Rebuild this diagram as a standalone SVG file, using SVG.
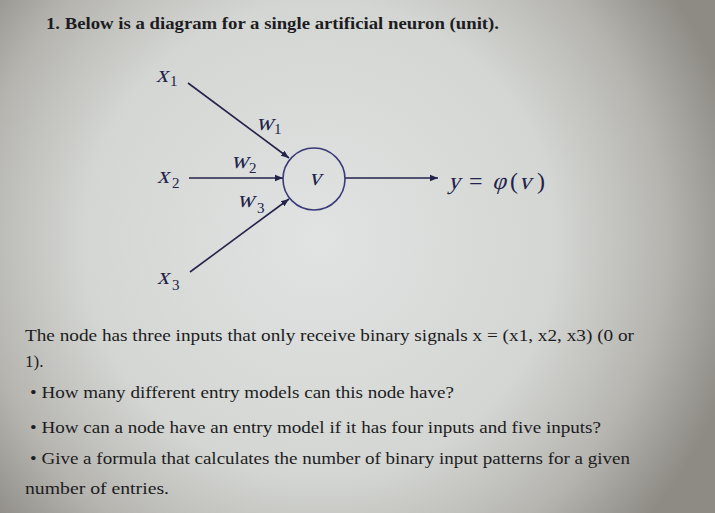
<svg xmlns="http://www.w3.org/2000/svg" width="715" height="513" viewBox="0 0 715 513">
<defs>
<radialGradient id="bg" cx="320" cy="240" r="430" gradientUnits="userSpaceOnUse">
<stop offset="0" stop-color="#e0e3e2"/>
<stop offset="0.55" stop-color="#d4d6d3"/>
<stop offset="0.8" stop-color="#b6b5b0"/>
<stop offset="1" stop-color="#8e8b85"/>
</radialGradient>
<marker id="ah" viewBox="0 0 10 10" refX="10" refY="5" markerWidth="8" markerHeight="8" markerUnits="userSpaceOnUse" orient="auto">
<path d="M0,1 L10,5 L0,9 z" fill="#23234a"/>
</marker>
</defs>
<style>
.t{font-family:"Liberation Serif","Times New Roman",serif;font-size:17px;fill:#1c1c22}
.b{font-weight:bold}
.m{font-family:"Liberation Serif","Times New Roman",serif;font-size:24px;fill:#22224a}
.s{font-family:"Liberation Serif","Times New Roman",serif;font-size:15px;fill:#22224a}
.ln{stroke:#23234a;stroke-width:1.6;fill:none}
</style>
<rect width="715" height="513" fill="url(#bg)"/>
<text class="t b" x="46" y="29" font-size="18" textLength="453" lengthAdjust="spacingAndGlyphs">1. Below is a diagram for a single artificial neuron (unit).</text>
<g id="connectors">
<line class="ln" x1="188" y1="83" x2="289" y2="158" marker-end="url(#ah)"/>
<line class="ln" x1="189" y1="178" x2="283" y2="178" marker-end="url(#ah)"/>
<line class="ln" x1="190" y1="272" x2="289" y2="199" marker-end="url(#ah)"/>
<line class="ln" x1="345" y1="178" x2="438" y2="178" marker-end="url(#ah)"/>
</g>
<g id="x1"><text class="m" transform="translate(156,82) skewX(-15)">x</text><text class="s" x="170" y="86">1</text></g>
<g id="x2"><text class="m" transform="translate(157,183) skewX(-15)">x</text><text class="s" x="172" y="188">2</text></g>
<g id="x3"><text class="m" transform="translate(157,284) skewX(-15)">x</text><text class="s" x="172" y="290">3</text></g>
<g id="w1"><text class="m" transform="translate(256,130) skewX(-15)">w</text><text class="s" x="274" y="134">1</text></g>
<g id="w2"><text class="m" transform="translate(231,168) skewX(-15)">w</text><text class="s" x="249" y="173">2</text></g>
<g id="w3"><text class="m" transform="translate(237,207) skewX(-15)">w</text><text class="s" x="257" y="213">3</text></g>
<g id="neuron">
<circle cx="314" cy="179" r="31" fill="none" stroke="#3a3a78" stroke-width="1.6"/>
<text class="m" transform="translate(315,185) skewX(-15)" text-anchor="middle" font-size="20">v</text>
</g>
<g id="output">
<text class="m" transform="translate(448,189) skewX(-15)">y</text>
<text class="m" x="469" y="189" font-size="28">=</text>
<text class="m" transform="translate(492,189) skewX(-15)">φ</text>
<text class="m" x="510" y="189" font-size="26">(</text>
<text class="m" transform="translate(519,189) skewX(-15)">v</text>
<text class="m" x="537" y="189" font-size="26">)</text>
</g>
<text class="t" x="25" y="341" textLength="609" lengthAdjust="spacingAndGlyphs">The node has three inputs that only receive binary signals x = (x1, x2, x3) (0 or</text>
<text class="t" x="25" y="367">1).</text>
<text class="t" x="30" y="398" textLength="424" lengthAdjust="spacingAndGlyphs">• How many different entry models can this node have?</text>
<text class="t" x="30" y="433" textLength="571" lengthAdjust="spacingAndGlyphs">• How can a node have an entry model if it has four inputs and five inputs?</text>
<text class="t" x="30" y="464" textLength="600" lengthAdjust="spacingAndGlyphs">• Give a formula that calculates the number of binary input patterns for a given</text>
<text class="t" x="25" y="494" textLength="144" lengthAdjust="spacingAndGlyphs">number of entries.</text>
</svg>
